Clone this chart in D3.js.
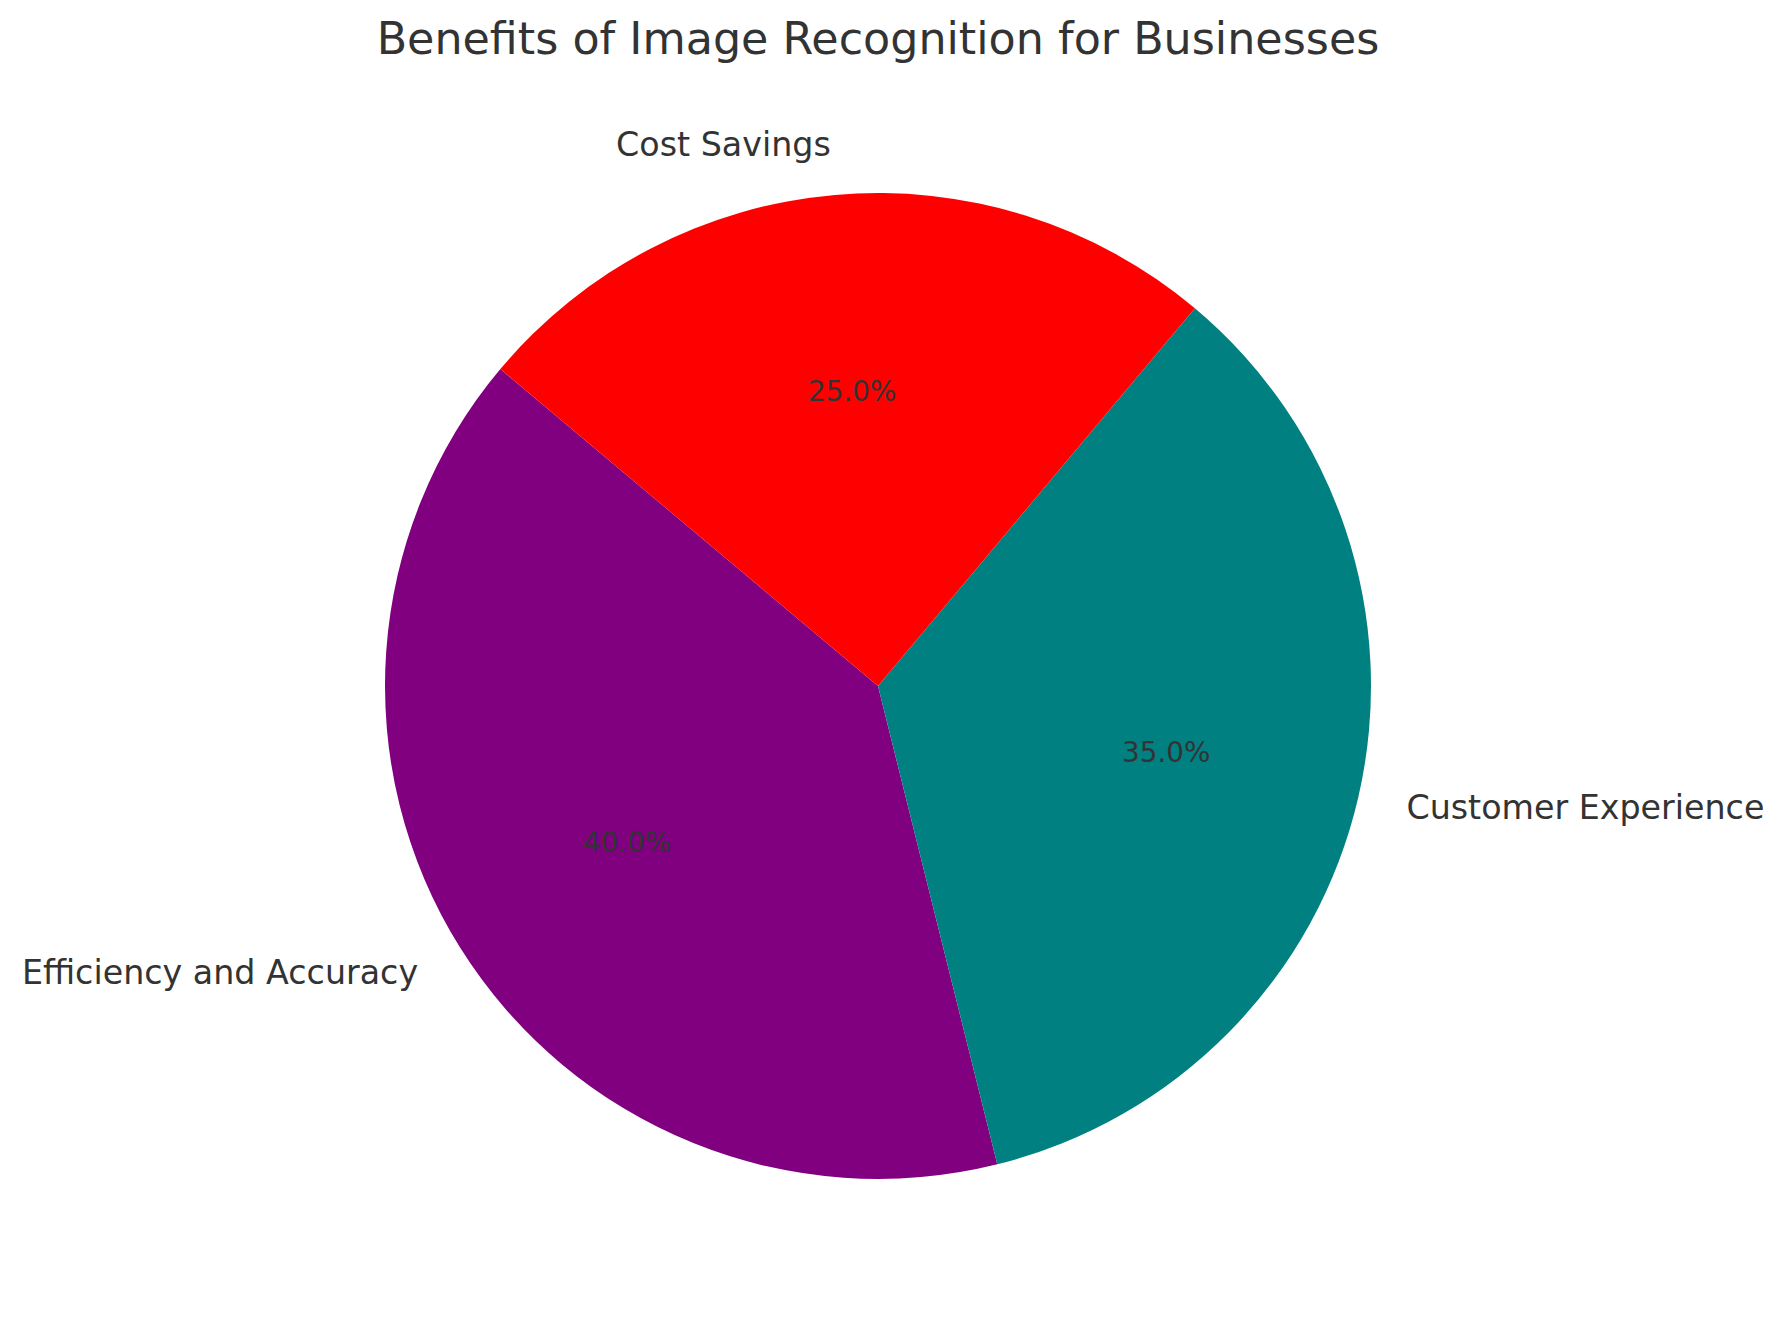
<!DOCTYPE html>
<html>
<head>
<meta charset="utf-8">
<script src="https://cdn.jsdelivr.net/npm/d3@7"></script>
<style>
	body { margin: 0; background: #fff; }
	text { font-family: "DejaVu Sans", sans-serif; fill: #333333; }
</style>
</head>
<body>
<svg id="chart" width="1784" height="1322"></svg>
<script>
var categories = ["Efficiency and Accuracy", "Customer Experience", "Cost Savings"]
var values = [40, 35, 25]
var colors = ["#800080", "#008080", "#ff0000"]

var width = 1784, height = 1322
var cx = 878, cy = 686, radius = 493
var deg = Math.PI / 180

var svg = d3.select("#chart")

svg.append("text")
	.attr("x", cx)
	.attr("y", 54)
	.attr("text-anchor", "middle")
	.style("font-size", "44.4px")
	.text("Benefits of Image Recognition for Businesses")

// matplotlib style: startangle 140, counterclockwise
var pie = d3.pie()
	.sort(null)
	.startAngle(-50 * deg)
	.endAngle(-410 * deg)

var arcs = pie(values)
var total = d3.sum(values)

var arc = d3.arc().innerRadius(0).outerRadius(radius)

var g = svg.append("g").attr("transform", "translate(" + cx + "," + cy + ")")

g.selectAll("path.slice")
	.data(arcs)
	.enter().append("path")
	.attr("class", "slice")
	.attr("d", arc)
	.attr("fill", (d, i) => colors[i])

function pos(d, dist){
	var a = (d.startAngle + d.endAngle) / 2
	return [Math.sin(a) * radius * dist, -Math.cos(a) * radius * dist]
}

g.selectAll("text.label")
	.data(arcs)
	.enter().append("text")
	.attr("class", "label")
	.attr("x", d => pos(d, 1.1)[0])
	.attr("y", d => pos(d, 1.1)[1])
	.attr("dy", "0.32em")
	.attr("text-anchor", d => pos(d, 1.1)[0] > 0 ? "start" : "end")
	.style("font-size", "33.3px")
	.text((d, i) => categories[i])

g.selectAll("text.pct")
	.data(arcs)
	.enter().append("text")
	.attr("class", "pct")
	.attr("x", d => pos(d, 0.6)[0])
	.attr("y", d => pos(d, 0.6)[1])
	.attr("dy", "0.33em")
	.attr("text-anchor", "middle")
	.style("font-size", "27.8px")
	.text(d => (d.value / total * 100).toFixed(1) + "%")
</script>
</body>
</html>
